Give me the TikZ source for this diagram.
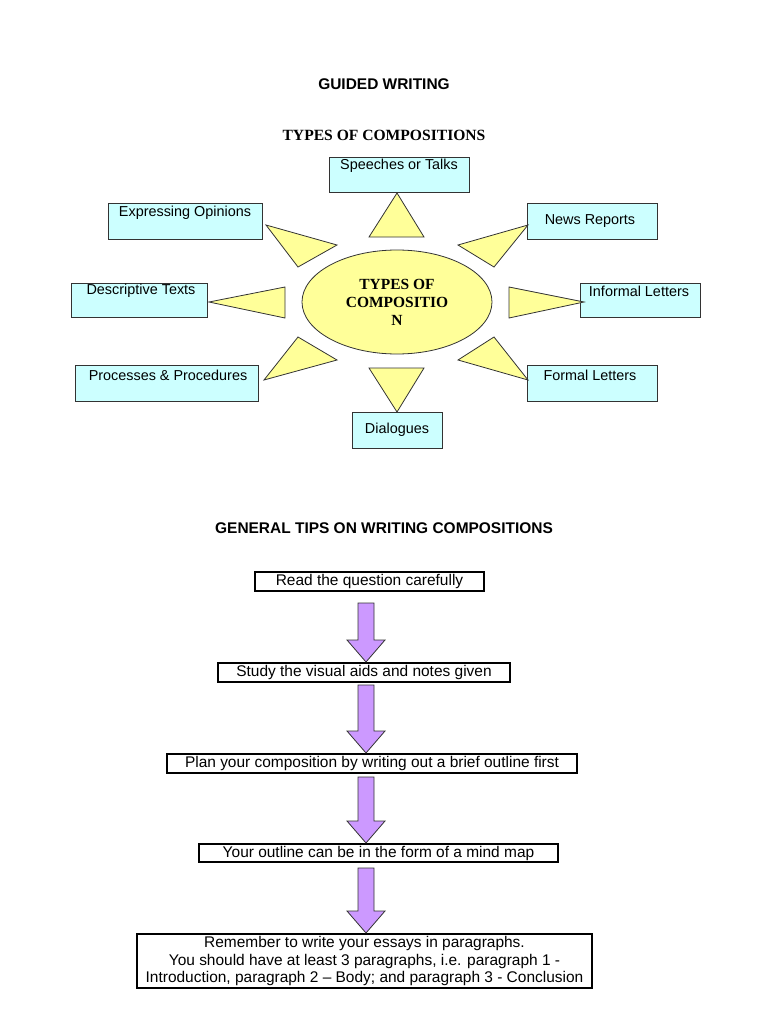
\documentclass[tikz,border=0pt]{standalone}
\usepackage{fontspec}
\setmainfont{Liberation Sans}
\newfontfamily\serifb{Liberation Serif}
\usetikzlibrary{calc}
\definecolor{cyanbox}{HTML}{CCFFFF}
\definecolor{yel}{HTML}{FFFF99}
\definecolor{purp}{HTML}{CC99FF}
\begin{document}
\begin{tikzpicture}[x=0.75pt,y=-0.75pt,
  cb/.style={draw=black!80,fill=cyanbox,line width=0.6pt},
  bl/.style={font=\fontsize{10.8}{12}\selectfont},
  tri/.style={draw=black!80,fill=yel,line width=0.6pt},
  fb/.style={draw=black,line width=0.8pt,font=\fontsize{11.6}{13}\selectfont,inner sep=0pt},
  pa/.style={draw=black!80,fill=purp,line width=0.6pt}]
\useasboundingbox (0,0) rectangle (768,1024);
\node[font=\bfseries\fontsize{11.6}{13}\selectfont] (t1) at (384,84) {GUIDED WRITING};
\node[font=\serifb\bfseries\fontsize{11.7}{13}\selectfont] (t2) at (384,135) {TYPES OF COMPOSITIONS};
\node[font=\bfseries\fontsize{11.6}{13}\selectfont] (t3) at (384,528) {GENERAL TIPS ON WRITING COMPOSITIONS};
% boxes
\draw[cb] (329,157) rectangle (469,192); \node[bl] (sp) at (399,166) {Speeches or Talks};
\draw[cb] (108,203) rectangle (262,239); \node[bl] (eo) at (185,213) {Expressing Opinions};
\draw[cb] (527,203) rectangle (657,239); \node[bl] (nr) at (590,221) {News Reports};
\draw[cb] (71,283) rectangle (207,317); \node[bl] (dt) at (141,291) {Descriptive Texts};
\draw[cb] (580,283) rectangle (700,317); \node[bl] (il) at (639,291) {Informal Letters};
\draw[cb] (75,365) rectangle (258,401); \node[bl] (pp) at (168,375) {Processes \& Procedures};
\draw[cb] (527,365) rectangle (657,401); \node[bl] (fl) at (590,375) {Formal Letters};
\draw[cb] (352,412) rectangle (442,448); \node[bl] (dl) at (397,430) {Dialogues};
% ellipse
\draw[tri] (397,302) ellipse [x radius=95, y radius=52];
\node[font=\serifb\bfseries\fontsize{11.6}{13.5}\selectfont,align=center] (c) at (397,302) {TYPES OF\\COMPOSITIO\\N};
% triangles
\draw[tri] (397,193) -- (369,237) -- (424,237) -- cycle;
\draw[tri] (266,225) -- (337,245) -- (298,267) -- cycle;
\draw[tri] (528,225) -- (458,245) -- (494,267) -- cycle;
\draw[tri] (209,302) -- (285,287) -- (285,318) -- cycle;
\draw[tri] (584,302) -- (509,287) -- (509,318) -- cycle;
\draw[tri] (264,380) -- (337,360) -- (298,337) -- cycle;
\draw[tri] (528,380) -- (458,360) -- (494,337) -- cycle;
\draw[tri] (397,412) -- (369,368) -- (424,368) -- cycle;
% flow
\node[fb,minimum width=229*0.75pt,minimum height=19*0.75pt] (f1) at (369.5,581.5) {Read the question carefully};
\node[fb,minimum width=292*0.75pt,minimum height=19*0.75pt] (f2) at (364,672.5) {Study the visual aids and notes given};
\node[fb,minimum width=410*0.75pt,minimum height=19*0.75pt] (f3) at (372,763.5) {Plan your composition by writing out a brief outline first};
\node[fb,minimum width=359*0.75pt,minimum height=18*0.75pt] (f4) at (378.5,853) {Your outline can be in the form of a mind map};
\node[fb,minimum width=455*0.75pt,minimum height=54*0.75pt,align=center,font=\fontsize{11.6}{13}\selectfont] (f5) at (364.5,961) {Remember to write your essays in paragraphs.\\You should have at least 3 paragraphs, i.e. paragraph 1 -\\Introduction, paragraph 2 – Body; and paragraph 3 - Conclusion};
\foreach \y/\ye in {603/662,685/753,777/843,868/933}{
  \draw[pa] (358,\y) -- (374,\y) -- (374,\ye-22) -- (385,\ye-22) -- (366,\ye) -- (347,\ye-22) -- (358,\ye-22) -- cycle;
}
\end{tikzpicture}
\end{document}
